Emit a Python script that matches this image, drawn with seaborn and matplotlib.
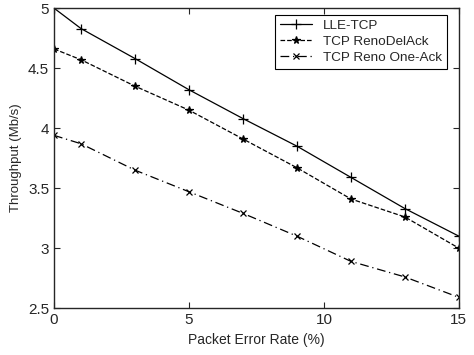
import numpy as np
import pandas as pd
import matplotlib.pyplot as plt
import seaborn as sns

per = [0, 1, 3, 5, 7, 9, 11, 13, 15]
lle_tcp = [5.00, 4.83, 4.58, 4.32, 4.08, 3.85, 3.59, 3.33, 3.10]
reno_delack = [4.66, 4.57, 4.35, 4.15, 3.91, 3.67, 3.41, 3.26, 3.00]
reno_oneack = [3.94, 3.87, 3.65, 3.47, 3.29, 3.10, 2.89, 2.76, 2.59]

names = ['LLE-TCP', 'TCP RenoDelAck', 'TCP Reno One-Ack']
df = pd.DataFrame({
    'per': per * 3,
    'thr': lle_tcp + reno_delack + reno_oneack,
    'proto': [n for n in names for _ in per],
})

sns.set_style('ticks')
plt.rcParams['font.family'] = ['Liberation Sans', 'DejaVu Sans']
plt.rcParams['xtick.direction'] = 'in'
plt.rcParams['ytick.direction'] = 'in'

fig = plt.figure(figsize=(4.74, 3.55), dpi=100)
ax = fig.add_axes([0.114, 0.132, 0.854, 0.845])

styles = {'LLE-TCP': ('-', '+', 7),
          'TCP RenoDelAck': ('--', '*', 5.5),
          'TCP Reno One-Ack': ((0, (7, 3, 1, 3)), 'x', 4)}
for n in names:
    ls, mk, ms = styles[n]
    sns.lineplot(data=df[df.proto == n], x='per', y='thr', ax=ax, color='black',
                 linestyle=ls, marker=mk, markersize=ms, linewidth=0.9,
                 markeredgecolor='black', markeredgewidth=0.9, label=n)

ax.set_xlim(0, 15)
ax.set_ylim(2.5, 5)
ax.set_xticks([0, 5, 10, 15])
ax.set_yticks([2.5, 3, 3.5, 4, 4.5, 5])
ax.set_yticklabels(['2.5', '3', '3.5', '4', '4.5', '5'])
ax.tick_params(top=True, right=True, labelsize=11, length=4, width=0.8)
for s in ax.spines.values():
    s.set_linewidth(1.0)
ax.set_xlabel('Packet Error Rate (%)', fontsize=10)
ax.set_ylabel('Throughput (Mb/s)', fontsize=9.5)
leg = ax.legend(loc='upper right', bbox_to_anchor=(0.97, 0.977), borderaxespad=0,
                fontsize=9.7, frameon=True, fancybox=False,
                edgecolor='black', framealpha=1, handlelength=2.4, borderpad=0.35,
                labelspacing=0.25)
leg.get_frame().set_linewidth(0.8)

fig.savefig('out.png', dpi=100)
